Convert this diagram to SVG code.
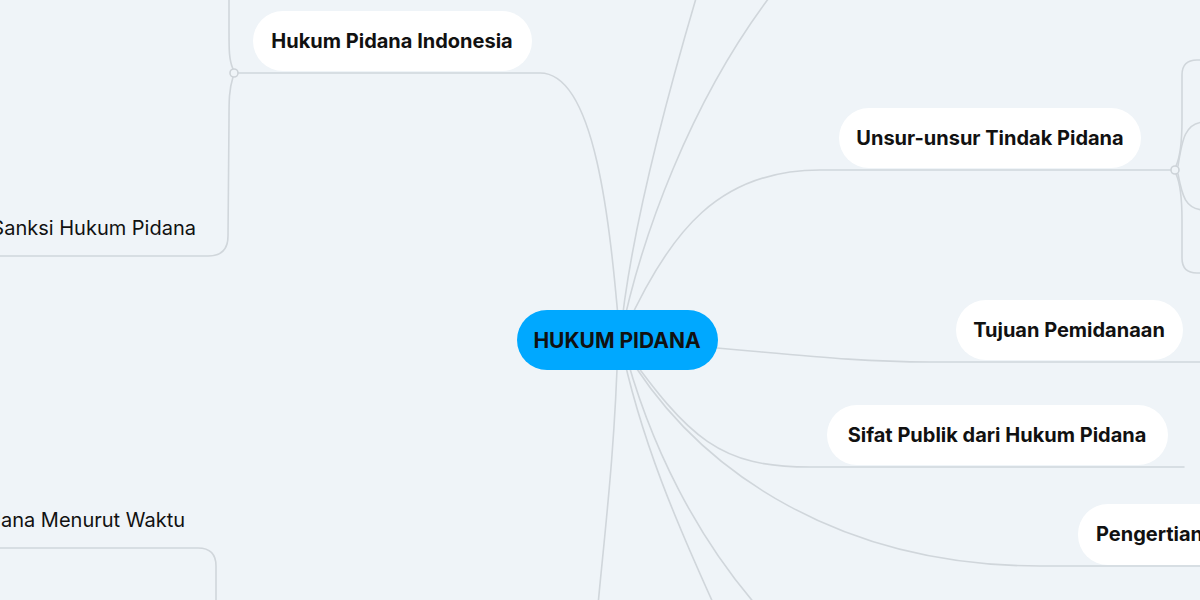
<svg xmlns="http://www.w3.org/2000/svg" width="1200" height="600" viewBox="0 0 1200 600">
<defs>
<style>
.bg{fill:#eff4f8}
.c{fill:none;stroke:#d0d6db;stroke-width:1.6;stroke-linecap:round}
.dot{fill:#eff4f8;stroke:#cdd3d8;stroke-width:1.6}
.n{fill:#ffffff}
.root{fill:#00a8ff}
.t{font-family:Inter,"Liberation Sans",sans-serif;font-weight:700;font-size:20px;fill:#111111;dominant-baseline:central}
.tr{font-family:Inter,"Liberation Sans",sans-serif;font-weight:400;font-size:20px;fill:#111111;dominant-baseline:central}
</style>
</defs>
<rect class="bg" x="0" y="0" width="1200" height="600"/>
<g id="connectors">
<path class="c" d="M620 340 C610 220 595 73 540 73 L238 73"/>
<path class="c" d="M620 340 C628 250 660 120 697 -5"/>
<path class="c" d="M620 340 C640 240 690 100 775 -10"/>
<path class="c" d="M625 330 C670 230 720 170 820 170 L1171 170"/>
<path class="c" d="M620 340 C780 352 840 362 930 362 L1205 362"/>
<path class="c" d="M622 345 C690 440 720 467 810 467 L1184 467"/>
<path class="c" d="M622 345 C700 480 850 566 1040 566 L1205 566"/>
<path class="c" d="M618 340 C615 450 605 530 598 605"/>
<path class="c" d="M620 340 C640 440 680 530 714 605"/>
<path class="c" d="M622 340 C650 450 700 540 756 605"/>
<path class="c" d="M233 69 C229 60 229 50 229 30 L229 -5"/>
<path class="c" d="M233 77 C229 90 229 100 229 120 L228 236 Q228 256 208 256 L-5 256"/>
<path class="c" d="M-5 548 L198 548 Q216 548 216 566 L216 605"/>
<path class="c" d="M1176 166 C1181 155 1182 140 1182 120 L1182 75 Q1182 60 1197 60 L1205 60"/>
<path class="c" d="M1178 166 C1182 140 1185 122 1205 122"/>
<path class="c" d="M1178 174 C1182 195 1185 210 1205 210"/>
<path class="c" d="M1176 174 C1181 185 1182 200 1182 220 L1182 258 Q1182 273 1197 273 L1205 273"/>
<circle class="dot" cx="234" cy="73" r="4"/>
<circle class="dot" cx="1175" cy="170" r="4"/>
</g>
<g id="root">
<rect class="root" x="517" y="310" width="201" height="60" rx="30"/>
<text class="t" x="617" y="340" text-anchor="middle" style="font-size:21px">HUKUM PIDANA</text>
</g>
<g id="hukum-pidana-indonesia">
<rect class="n" x="253" y="11" width="279" height="60" rx="30"/>
<text class="t" x="392" y="41" text-anchor="middle">Hukum Pidana Indonesia</text>
</g>
<g id="sanksi">
<text class="tr" x="196" y="228" text-anchor="end">Sanksi Hukum Pidana</text>
</g>
<g id="menurut-waktu">
<text class="tr" x="185" y="520" text-anchor="end">Hukum Pidana Menurut Waktu</text>
</g>
<g id="unsur">
<rect class="n" x="839" y="108" width="302" height="60" rx="30"/>
<text class="t" x="990" y="138" text-anchor="middle">Unsur-unsur Tindak Pidana</text>
</g>
<g id="tujuan">
<rect class="n" x="956" y="300" width="227" height="60" rx="30"/>
<text class="t" x="1069" y="330" text-anchor="middle">Tujuan Pemidanaan</text>
</g>
<g id="sifat">
<rect class="n" x="827" y="405" width="341" height="60" rx="30"/>
<text class="t" x="997" y="435" text-anchor="middle">Sifat Publik dari Hukum Pidana</text>
</g>
<g id="pengertian">
<rect class="n" x="1078" y="504" width="260" height="61" rx="30"/>
<text class="t" x="1096" y="534">Pengertian Hukum Pidana</text>
</g>
</svg>
